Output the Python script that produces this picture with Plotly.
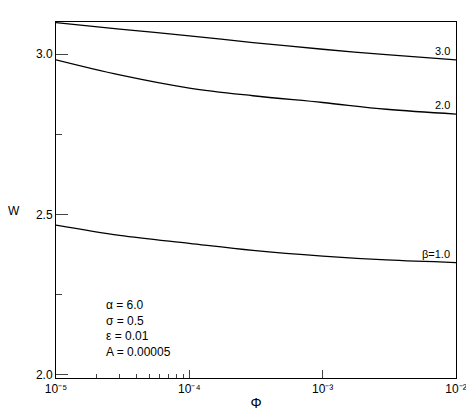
import plotly.graph_objects as go

phi = [1e-5, 3e-5, 1e-4, 3e-4, 1e-3, 3e-3, 1e-2]
w_beta1 = [2.467, 2.435, 2.410, 2.388, 2.370, 2.358, 2.350]
w_beta2 = [2.982, 2.935, 2.894, 2.870, 2.849, 2.828, 2.813]
w_beta3 = [3.098, 3.078, 3.057, 3.036, 3.015, 2.998, 2.982]
curve_labels = ["β=1.0", "2.0", "3.0"]
x_tickvals = [1e-5, 1e-4, 1e-3, 1e-2]
x_ticktext = ["10⁻⁵", "10⁻⁴", "10⁻³", "10⁻²"]
y_tickvals = [2.0, 2.5, 3.0]
y_ticktext = ["2.0", "2.5", "3.0"]

fig = go.Figure()
for ys in (w_beta1, w_beta2, w_beta3):
    fig.add_trace(go.Scatter(x=phi, y=ys, mode="lines", line=dict(color="black", width=1.3, shape="spline"), showlegend=False))

for lab, ys in zip(curve_labels, (w_beta1, w_beta2, w_beta3)):
    fig.add_annotation(x=-2.03, y=ys[-1], text=lab, showarrow=False, xanchor="right", yanchor="bottom",
                       font=dict(size=11, color="black"), yshift=1)

fig.add_annotation(xref="paper", yref="paper", x=0.12, y=0.23, xanchor="left", yanchor="top", align="left",
                   showarrow=False, text="α = 6.0<br>σ = 0.5<br>ε = 0.01<br>A = 0.00005",
                   font=dict(size=12, color="black"))
fig.add_annotation(xref="paper", yref="y", x=-0.105, y=2.51, xanchor="center", showarrow=False,
                   text="W", font=dict(size=12, color="black"))

fig.update_layout(
    width=474, height=412, paper_bgcolor="white", plot_bgcolor="white",
    margin=dict(l=48, r=26, t=14, b=30),
    font=dict(family="Liberation Sans, Arial", color="black", size=12),
)
fig.update_xaxes(type="log", range=[-5, -2], tickvals=x_tickvals, ticktext=x_ticktext,
                 ticks="inside", ticklen=8, showgrid=False, showline=True, linecolor="black", mirror=True,
                 minor=dict(ticks="inside", ticklen=4, tickvals=[2e-5,3e-5,4e-5,5e-5,6e-5,7e-5,8e-5,9e-5]),
                 title=dict(text="Φ", standoff=2), zeroline=False)
fig.update_yaxes(range=[1.99, 3.10], tickvals=y_tickvals, ticktext=y_ticktext,
                 ticks="inside", ticklen=12, showgrid=False, showline=True, linecolor="black", mirror=True,
                 minor=dict(ticks="inside", ticklen=6, tickvals=[2.25, 2.75]), zeroline=False)
fig.write_html("out.html")
